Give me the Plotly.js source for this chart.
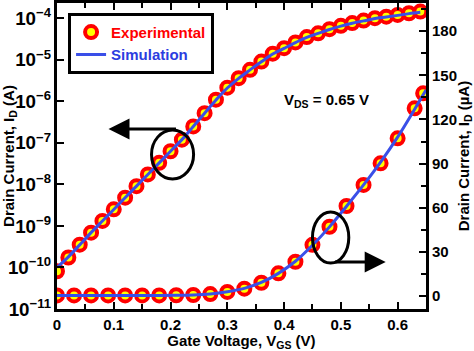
<!DOCTYPE html>
<html>
<head>
<meta charset="utf-8">
<script src="https://cdn.plot.ly/plotly-3.0.1.min.js"></script>
<style>html,body{margin:0;padding:0;background:#fff}#chart{width:474px;height:351px}</style>
</head>
<body>
<div id="chart"></div>
<script>
// Gate voltage grids (V)
var vgsLog = [0,0.02,0.04,0.06,0.08,0.10,0.12,0.14,0.16,0.18,0.20,0.22,0.24,0.26,0.28,0.30,0.32,0.34,0.36,0.38,0.40,0.42,0.44,0.46,0.48,0.50,0.52,0.54,0.56,0.58,0.60,0.62,0.64];
// Experimental drain current, log axis (A)
var idLogExp = [8.1e-11,1.74e-10,3.55e-10,6.9e-10,1.32e-9,2.51e-9,4.79e-9,9.1e-9,1.74e-8,3.31e-8,6.3e-8,1.2e-7,2.5e-7,5.2e-7,1.1e-6,2.14e-6,3.63e-6,5.75e-6,9.1e-6,1.41e-5,1.91e-5,2.63e-5,3.55e-5,4.37e-5,5.5e-5,6.6e-5,7.7e-5,8.85e-5,1.01e-4,1.1e-4,1.21e-4,1.33e-4,1.46e-4];
// Simulated drain current, log axis (A)
var idLogSim = [1.0e-10,1.8e-10,3.5e-10,6.9e-10,1.32e-9,2.5e-9,4.8e-9,9.1e-9,1.74e-8,3.3e-8,6.3e-8,1.2e-7,2.5e-7,5.2e-7,1.08e-6,2.1e-6,3.6e-6,5.75e-6,9.0e-6,1.38e-5,1.9e-5,2.6e-5,3.5e-5,4.35e-5,5.4e-5,6.5e-5,7.6e-5,8.7e-5,9.9e-5,1.08e-4,1.18e-4,1.3e-4,1.4e-4];

var vgsLin = [0,0.03,0.06,0.09,0.12,0.15,0.18,0.21,0.24,0.27,0.30,0.33,0.36,0.39,0.42,0.45,0.48,0.51,0.54,0.57,0.60,0.63,0.645];
// Experimental drain current, linear axis (uA)
var idLinExp = [0.4,0.4,0.4,0.4,0.4,0.4,0.4,0.5,0.7,1.3,2.8,5.0,9.0,15.4,23.3,34.8,47.1,61.2,75.5,90.2,107.2,127.6,137.8];
var vgsLinSim = [0,0.03,0.06,0.09,0.12,0.15,0.18,0.21,0.24,0.27,0.30,0.33,0.36,0.39,0.42,0.45,0.48,0.51,0.54,0.57,0.60,0.63,0.65];
// Simulated drain current, linear axis (uA)
var idLinSim = [0.4,0.4,0.4,0.4,0.4,0.4,0.4,0.5,0.7,1.4,2.9,5.2,9.2,15.4,23.6,34.5,47.0,61.0,75.5,91.0,108.0,127.0,140.0];

var xTickVals = [0,0.1,0.2,0.3,0.4,0.5,0.6];
var y2TickVals = [0,30,60,90,120,150,180];
var logDecades = [-11,-10,-9,-8,-7,-6,-5,-4];
var minorMantissas = [2,3,4,5,6,7,8,9];

var logMinorVals = [];
logDecades.forEach(function(d){ minorMantissas.forEach(function(m){ logMinorVals.push(m*Math.pow(10,d)); }); });

var fnt = {family:'Liberation Sans, Arial, sans-serif', size:15, color:'black', weight:'bold'};
var expMarker = {symbol:'circle', size:12, color:'#ffff00', line:{color:'#ff0000', width:4}};
var simLine = {color:'#3a4fe8', width:3};

var traces = [
  {x:vgsLog, y:idLogExp, type:'scatter', mode:'markers', marker:expMarker, name:'<span style="color:#ff0000">Experimental</span>', yaxis:'y', showlegend:true},
  {x:vgsLin, y:idLinExp, type:'scatter', mode:'markers', marker:expMarker, yaxis:'y2', showlegend:false},
  {x:vgsLog, y:idLogSim, type:'scatter', mode:'lines', line:Object.assign({shape:'spline'}, simLine), name:'<span style="color:#2b3de0">Simulation</span>', yaxis:'y', showlegend:true},
  {x:vgsLinSim, y:idLinSim, type:'scatter', mode:'lines', line:Object.assign({shape:'spline'}, simLine), yaxis:'y2', showlegend:false}
];

var layout = {
  width:474, height:351,
  margin:{l:57, r:48, t:3, b:42},
  paper_bgcolor:'white', plot_bgcolor:'white',
  font:fnt,
  showlegend:true,
  legend:{x:0.03, y:0.968, xanchor:'left', yanchor:'top', bgcolor:'white', bordercolor:'black', borderwidth:3, font:fnt, itemwidth:30, tracegroupgap:0},
  xaxis:{range:[0,0.65], tickvals:xTickVals, ticktext:xTickVals.map(String), ticks:'inside', ticklen:7, tickwidth:2, tickcolor:'black',
         minor:{dtick:0.05, ticks:'inside', ticklen:5, tickwidth:2, tickcolor:'black'},
         showline:true, linecolor:'black', linewidth:3, mirror:'ticks', showgrid:false, zeroline:false,
         tickfont:fnt, title:{text:'Gate Voltage, V<sub>GS</sub> (V)', font:fnt, standoff:2}},
  yaxis:{type:'log', range:[-11,-3.63], dtick:1, exponentformat:'power', ticks:'inside', ticklen:7, tickwidth:2, tickcolor:'black',
         showline:true, linecolor:'black', linewidth:3, showgrid:false, zeroline:false,
         tickfont:fnt, title:{text:'Drain Current, I<sub>D</sub> (A)', font:fnt, standoff:4}},
  yaxis3:{overlaying:'y', side:'left', type:'log', range:[-11,-3.63], tickvals:logMinorVals, showticklabels:false,
         ticks:'inside', ticklen:4, tickwidth:1.5, tickcolor:'black', showline:false, showgrid:false, zeroline:false},
  yaxis2:{overlaying:'y', side:'right', range:[-8.84,199.2], tickvals:y2TickVals, ticks:'inside', ticklen:7, tickwidth:2, tickcolor:'black',
         minor:{dtick:15, ticks:'inside', ticklen:5, tickwidth:2, tickcolor:'black'},
         showline:true, linecolor:'black', linewidth:3, showgrid:false, zeroline:false,
         tickfont:fnt, title:{text:'Drain Current, I<sub>D</sub> (µA)', font:fnt, standoff:4}},
  shapes:[
    {type:'circle', xref:'x', yref:'y2', x0:0.1665, x1:0.2406, y0:79.6, y1:112.9, line:{color:'black', width:3}},
    {type:'circle', xref:'x', yref:'y2', x0:0.450, x1:0.514, y0:22.4, y1:57.1, line:{color:'black', width:3}}
  ],
  annotations:[
    {xref:'x', yref:'y2', x:0.0907, y:113.6, ax:69, ay:0, showarrow:true, arrowhead:2, arrowsize:1.4, arrowwidth:3, arrowcolor:'black', text:''},
    {xref:'x', yref:'y2', x:0.579, y:23.1, ax:-52, ay:0, showarrow:true, arrowhead:2, arrowsize:1.4, arrowwidth:3, arrowcolor:'black', text:''},
    {xref:'x', yref:'y2', x:0.475, y:133, showarrow:false, text:'V<sub>DS</sub> = 0.65 V', font:fnt}
  ]
};

Plotly.newPlot('chart', traces, layout, {displayModeBar:false, staticPlot:true});
</script>
</body>
</html>
